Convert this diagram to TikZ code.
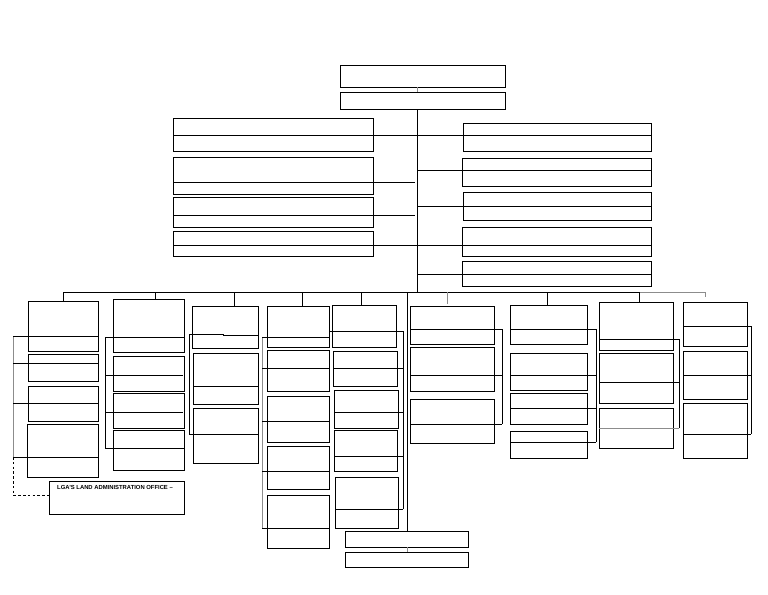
\documentclass[tikz,border=0pt]{standalone}
\usepackage{fontspec}
\setmainfont{Liberation Sans}
\begin{document}
\begin{tikzpicture}[x=0.75pt,y=-0.75pt,
  box/.style={draw=black,line width=0.7pt,rectangle,inner sep=0pt,outer sep=0pt,fill=none},
  ln/.style={draw=black,line width=0.7pt},
  gln/.style={draw=black!45,line width=0.7pt},
  dln/.style={draw=black,line width=0.7pt,dash pattern=on 2pt off 1.6pt}]
\useasboundingbox (0,0) rectangle (768,594);
\newcommand\bx[5]{\node[box,minimum width={(#4-#2)*0.75pt},minimum height={(#5-#3)*0.75pt}] (#1) at ({(#2+#4)/2},{(#3+#5)/2}) {};}
% top
\bx{T1}{340}{65}{505}{87}
\bx{T2}{340}{92}{505}{109}
\bx{L1}{173}{118}{373}{151}
\bx{L2}{173}{157}{373}{194}
\bx{L3}{173}{197}{373}{227}
\bx{L4}{173}{231}{373}{256}
\bx{R1}{463}{123}{651}{151}
\bx{R2}{462}{158}{651}{186}
\bx{R3}{463}{192}{651}{220}
\bx{R4}{462}{227}{651}{256}
\bx{R5}{462}{261}{651}{286}
\coordinate (spT) at (417,109);
\coordinate (spB) at (417,292);
\draw[gln] (417,0 |- T1.south) -- (417,0 |- T2.north);
\draw[ln] (spT) -- (spB);
\draw[ln] (L1.west |- 0,135) -- (R1.east |- 0,135);
\draw[ln] (L2.west |- 0,182) -- (415,182);
\draw[ln] (L3.west |- 0,215) -- (415,215);
\draw[ln] (417,170) -- (R2.east |- 0,170);
\draw[ln] (417,206) -- (R3.east |- 0,206);
\draw[ln] (L4.west |- 0,245) -- (R4.east |- 0,245);
\draw[ln] (417,274) -- (R5.east |- 0,274);
% bus
\coordinate (busL) at (63,292);
\coordinate (busR) at (705,292);
\draw[ln] (busL) -- (639,292);
\draw[gln] (639,292) -- (busR);
% column A
\bx{A1}{28}{301}{98}{351}
\bx{A2}{28}{354}{98}{381}
\bx{A3}{28}{386}{98}{421}
\bx{A4}{27}{424}{98}{477}
\node[box,minimum width={135*0.75pt},minimum height={33*0.75pt}] (LGA) at (116.5,497.5) {};
\node[font=\fontsize{4.4}{5}\selectfont\bfseries,anchor=center,inner sep=0pt] (LGAt) at (115,487.5) {LGA'S LAND ADMINISTRATION OFFICE –};
\draw[ln] (busL) -- (63,0 |- A1.north);
\draw[gln] (13,336) -- (13,457);
\draw[dln] (13,457) -- (13,495) -- (LGA.west |- 0,495);
\foreach \y/\b in {336/A1,363/A2,403/A3,457/A4} \draw[ln] (13,\y) -- (\b.east |- 0,\y);
% column B
\bx{B1}{113}{299}{184}{352}
\bx{B2}{113}{356}{184}{391}
\bx{B3}{113}{393}{184}{428}
\bx{B4}{113}{430}{184}{470}
\draw[ln] (155,292) -- (155,0 |- B1.north);
\draw[ln] (105,337) -- (105,448);
\draw[ln] (105,337) -- (B1.east |- 0,337);
\draw[ln] (105,375) -- (183,375);
\draw[ln] (105,412) -- (183,412);
\draw[ln] (105,448) -- (B4.east |- 0,448);
% column C
\bx{C1}{192}{306}{258}{348}
\bx{C2}{193}{353}{258}{404}
\bx{C3}{193}{408}{258}{463}
\draw[ln] (234,292) -- (234,0 |- C1.north);
\draw[ln] (189,334) -- (189,434);
\draw[ln] (189,334) -- (223,334) -- (223,335) -- (C1.east |- 0,335);
\draw[ln] (C2.west |- 0,386) -- (C2.east |- 0,386);
\draw[ln] (189,434) -- (C3.east |- 0,434);
% column D
\bx{D1}{267}{306}{329}{347}
\bx{D2}{267}{350}{329}{391}
\bx{D3}{267}{396}{329}{442}
\bx{D4}{267}{446}{329}{489}
\bx{D5}{267}{495}{329}{548}
\draw[ln] (302,292) -- (302,0 |- D1.north);
\draw[gln] (262,337) -- (262,528);
\foreach \y/\b in {337/D1,368/D2,421/D3,471/D4,528/D5} \draw[ln] (262,\y) -- (\b.east |- 0,\y);
% column E
\bx{E1}{332}{305}{396}{347}
\bx{E2}{333}{351}{397}{386}
\bx{E3}{334}{390}{398}{428}
\bx{E4}{334}{430}{397}{471}
\bx{E5}{335}{477}{398}{528}
\draw[ln] (361,292) -- (361,0 |- E1.north);
\draw[ln] (403,331) -- (403,509);
\draw[ln] (330,331) -- (403,331);
\foreach \y/\b in {368/E2,412/E3,456/E4,509/E5} \draw[ln] (\b.west |- 0,\y) -- (403,\y);
% lower spine and bottom boxes
\bx{BB1}{345}{531}{468}{547}
\bx{BB2}{345}{552}{468}{567}
\draw[ln] (407,292) -- (407,0 |- BB1.north);
\draw[gln] (407,0 |- BB1.south) -- (407,0 |- BB2.north);
% column F
\bx{F1}{410}{306}{494}{344}
\bx{F2}{410}{347}{494}{391}
\bx{F3}{410}{399}{494}{443}
\draw[gln] (447,292) -- (447,304);
\draw[ln] (502,329) -- (502,424);
\foreach \y/\b in {329/F1,375/F2,424/F3} \draw[ln] (\b.west |- 0,\y) -- (502,\y);
% column G
\bx{G1}{510}{305}{587}{344}
\bx{G2}{510}{353}{587}{390}
\bx{G3}{510}{393}{587}{424}
\bx{G4}{510}{431}{587}{458}
\draw[ln] (547,292) -- (547,0 |- G1.north);
\draw[ln] (596,329) -- (596,442);
\foreach \y/\b in {329/G1,375/G2,408/G3,442/G4} \draw[ln] (\b.west |- 0,\y) -- (596,\y);
% column H
\bx{H1}{599}{302}{673}{350}
\bx{H2}{599}{353}{673}{403}
\bx{H3}{599}{408}{673}{448}
\draw[ln] (639,292) -- (639,0 |- H1.north);
\draw[ln] (679,339) -- (679,428);
\draw[ln] (H1.west |- 0,339) -- (679,339);
\draw[ln] (H2.west |- 0,382) -- (679,382);
\draw[gln] (H3.west |- 0,428) -- (679,428);
% column I
\bx{I1}{683}{302}{747}{346}
\bx{I2}{683}{351}{747}{399}
\bx{I3}{683}{403}{747}{458}
\draw[gln] (busR) -- (705,297);
\draw[ln] (751,326) -- (751,434);
\foreach \y/\b in {326/I1,375/I2,434/I3} \draw[ln] (\b.west |- 0,\y) -- (751,\y);
\end{tikzpicture}
\end{document}
